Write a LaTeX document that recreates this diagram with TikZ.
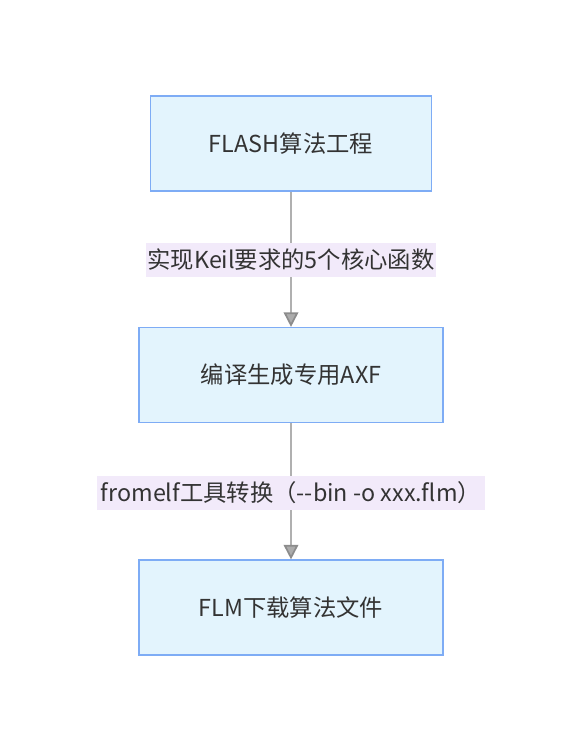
\documentclass[tikz,border=0pt]{standalone}
\usepackage{fontspec}
\setmainfont{Noto Sans CJK SC}
\usetikzlibrary{arrows.meta}
\definecolor{boxfill}{HTML}{E3F4FD}
\definecolor{boxline}{HTML}{7EACF5}
\definecolor{labelfill}{HTML}{F2EAFA}
\definecolor{linegray}{HTML}{B0B0B0}
\definecolor{textgray}{HTML}{333333}
\begin{document}
\begin{tikzpicture}[x=0.75pt, y=-0.75pt,
    stepbox/.style={draw=boxline, fill=boxfill, line width=1.1pt, text=textgray,
        minimum height=71pt, font=\fontsize{17.5}{21}\selectfont},
    edgelabel/.style={fill=labelfill, text=textgray, inner xsep=1pt,
        minimum height=26pt, font=\fontsize{17.5}{21}\selectfont},
    flow/.style={draw=linegray, line width=1.3pt,
        -{Triangle[width=11pt, length=11pt, color=gray!90, fill=gray!65]}}]
    \useasboundingbox (0,0) rectangle (583,752);

    % Boxes
    \node[stepbox, minimum width=211pt] (flash) at (291, 143.5) {FLASH算法工程};
    \node[stepbox, minimum width=228pt] (axf) at (291, 375) {编译生成专用AXF};
    \node[stepbox, minimum width=228pt] (flm) at (291, 607.5) {FLM下载算法文件};

    % Arrows
    \draw[flow] (flash) -- (axf);
    \draw[flow] (axf) -- (flm);

    % Labels
    \node[edgelabel] (impl) at (291, 260) {实现Keil要求的5个核心函数};
    \node[edgelabel, inner xsep=3pt] (conv) at (291, 493) {fromelf工具转换（{-}{-}bin -o xxx.flm）};
\end{tikzpicture}
\end{document}
